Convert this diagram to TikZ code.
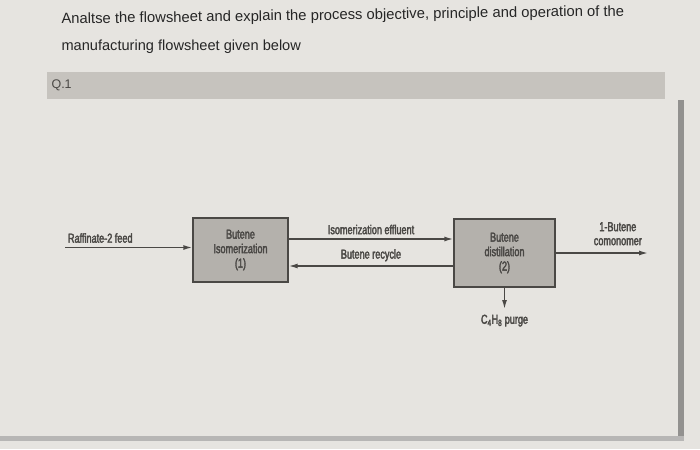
\documentclass[tikz,border=0pt]{standalone}
\usepackage{fontspec}
\setmainfont{Liberation Sans}
\newfontfamily\narrowfont[FakeStretch=0.7,FakeBold=2.5]{Liberation Sans}
\usetikzlibrary{arrows.meta,positioning}
\definecolor{page}{HTML}{E6E4E0}
\definecolor{bar}{HTML}{C6C3BE}
\definecolor{unitfill}{HTML}{B4B1AC}
\definecolor{ink}{HTML}{4A4845}
\tikzset{
  unit/.style={draw=ink,fill=unitfill,line width=1.4pt,minimum width=95pt,minimum height=64pt,
    align=center,font=\narrowfont\fontsize{13}{14.5}\selectfont,text=ink},
  stream/.style={draw=ink,line width=1.4pt,-{Latex[length=9pt,width=5pt]}},
  label/.style={font=\narrowfont\fontsize{13}{14}\selectfont,text=ink,inner sep=1pt,align=center}
}
\begin{document}
\begin{tikzpicture}[x=1pt,y=-1pt]
  \fill[page] (0,0) rectangle (700,449);
  \useasboundingbox (0,0) rectangle (700,449);
  \fill[bar] (47,72) rectangle (665,99);
  \fill[ink!60] (678,100) rectangle (684,440);
  \fill[ink!40] (0,436) rectangle (684,441);

  % question text
  \node (q1) [anchor=west,rotate=0.8,font=\fontsize{14.8}{17}\selectfont,text=black!85] at (58,20)
    {Analtse the flowsheet and explain the process objective, principle and operation of the};
  \node (q2) [anchor=west,font=\fontsize{14.6}{17}\selectfont,text=black!85] at (58,47)
    {manufacturing flowsheet given below};
  \node (qn) [anchor=west,font=\fontsize{12.5}{14}\selectfont,text=ink] at (48,85) {Q.1};

  % units
  \node (iso) [unit] at (240.5,250) {Butene\\Isomerization\\(1)};
  \node (dist) [unit,minimum width=101pt,minimum height=68pt] at (504.5,253) {Butene\\distillation\\(2)};
  \coordinate (feed) at (65,247.5);
  \coordinate (prod) at (648,253);
  \coordinate (purge) at (dist.south |- 0,309);

  % streams
  \draw[stream] (feed) -- (iso.west |- feed)
    node[label,pos=0.01,above=3pt,anchor=south west] {Raffinate-2 feed};
  \draw[stream] (iso.east |- 0,239) -- (dist.west |- 0,239)
    node[label,midway,above=3pt] {Isomerization effluent};
  \draw[stream] (dist.west |- 0,266) -- (iso.east |- 0,266)
    node[label,midway,above=3pt] {Butene recycle};
  \draw[stream] (dist.east |- prod) -- (prod)
    node[label,midway,above=6pt,xshift=16pt] {1-Butene\\comonomer};
  \draw[stream] (dist.south) -- (purge)
    node[label,below=4pt] {C\textsubscript{4}H\textsubscript{8} purge};
\end{tikzpicture}
\end{document}
